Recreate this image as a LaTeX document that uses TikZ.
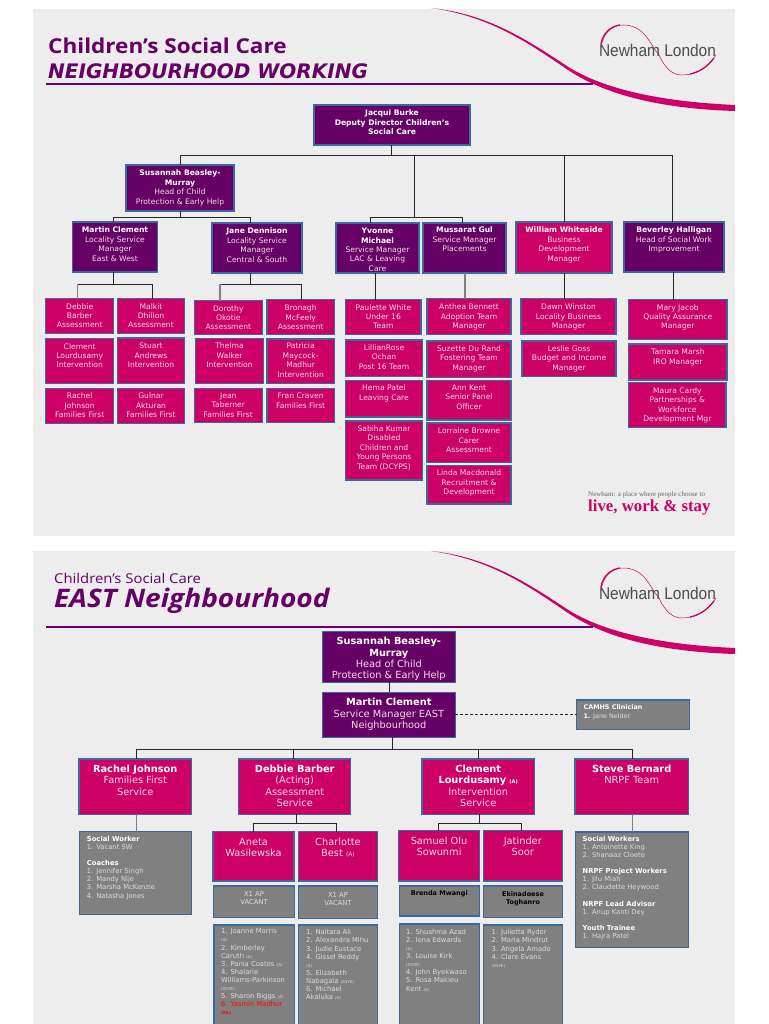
\documentclass[tikz,border=0pt]{standalone}
\usepackage{fontspec}
\setmainfont{DejaVu Sans}
\newfontfamily\titlefont[FakeStretch=1.1]{Open Sans}
\newfontfamily\logofont[FakeStretch=0.91]{Liberation Sans}
\newfontfamily\stayfont{Liberation Serif}
\definecolor{deeppurple}{HTML}{660066}
\definecolor{hotpink}{HTML}{CC0066}
\definecolor{slate}{HTML}{808080}
\definecolor{edgeblue}{HTML}{3A6A9C}
\definecolor{paper}{HTML}{EDEDED}
\definecolor{softpink}{HTML}{FAD9E8}
\definecolor{softgrey}{HTML}{DCDCDC}
\newcommand{\nm}[1]{\textbf{\color{white}#1}}
\newcommand{\stat}[1]{{\fontsize{4}{4}\selectfont (#1)}}
\tikzset{
	orgbox/.style={draw=edgeblue, line width=1.2pt, anchor=north west, inner sep=0, outer sep=0},
	purplebox/.style={orgbox, fill=deeppurple},
	pinkbox/.style={orgbox, fill=hotpink},
	greybox/.style={orgbox, fill=slate},
	smalltext/.style={anchor=north, align=center, inner sep=0, text=softpink, font=\fontsize{7.6}{9.4}\selectfont},
	bigtext/.style={anchor=north, align=center, inner sep=0, text=softpink, font=\fontsize{9.8}{11.3}\selectfont},
	vacanttext/.style={anchor=north, align=center, inner sep=0, text=softgrey, font=\fontsize{6.8}{8.1}\selectfont},
	blacktext/.style={anchor=north, align=center, inner sep=0, text=black, font=\bfseries\fontsize{6.5}{8.1}\selectfont},
	listtext/.style={anchor=north west, align=left, inner sep=0, text=softgrey, font=\fontsize{6.8}{8.1}\selectfont},
	wire/.style={draw=black!85, line width=1pt},
	greywire/.style={draw=black!50, line width=1.1pt},
}
\begin{document}
\begin{tikzpicture}[x=1pt, y=-1pt]
	\path[use as bounding box, clip] (0,0) rectangle (768,1024);
	\fill[white] (0,0) rectangle (768,1024);
	% Panels, swoosh and logo:
	\fill[paper] (33,9) rectangle (735,536);
	\fill[paper] (33,551) rectangle (735,1030);
	\foreach \dy in {0,543}{
		\fill[hotpink] (431,8+\dy) .. controls (490,14+\dy) and (530,42+\dy) .. (570,68+\dy) .. controls (610,92+\dy) and (670,102+\dy) .. (735,105+\dy) -- (735,111+\dy) .. controls (670,109+\dy) and (610,98+\dy) .. (568,70+\dy) .. controls (530,44+\dy) and (490,16+\dy) .. (431,8+\dy) -- cycle;
		\draw[hotpink, line width=0.5pt] (601,48+\dy) .. controls (603,30+\dy) and (615,25+\dy) .. (623,25+\dy) .. controls (645,25+\dy) and (650,45+\dy) .. (659,55+\dy) .. controls (665,68+\dy) and (672,75+\dy) .. (682,75+\dy) .. controls (697,75+\dy) and (708,67+\dy) .. (716,55+\dy);
		\draw[hotpink, line width=1.3pt] (601,44+\dy) .. controls (603,32+\dy) and (612,26+\dy) .. (620,25+\dy);
		\draw[hotpink, line width=1.3pt] (690,74+\dy) .. controls (700,72+\dy) and (708,66+\dy) .. (714,58+\dy);
		\node[anchor=center, inner sep=0, text=black!70, font=\logofont\fontsize{17}{17}\selectfont] (Logo\dy) at (657.5,50+\dy){Newham London};
		\fill[deeppurple] (46,82.7+\dy) rectangle (593,84.7+\dy);
	}
	% Titles:
	\node[anchor=west, inner sep=0, text=deeppurple, font=\titlefont\bfseries\fontsize{20.5}{20.5}\selectfont] (TitleA) at (48,46){Children’s Social Care};
	\node[anchor=west, inner sep=0, text=deeppurple, font=\bfseries\itshape\fontsize{20}{20}\selectfont] (TitleB) at (48,71){NEIGHBOURHOOD WORKING};
	\node[anchor=west, inner sep=0, text=deeppurple, font=\titlefont\fontsize{13.5}{13.5}\selectfont] (TitleC) at (54,578){Children’s Social Care};
	\node[anchor=west, inner sep=0, text=deeppurple, font=\titlefont\bfseries\itshape\fontsize{25.5}{25.5}\selectfont] (TitleD) at (54,601){EAST Neighbourhood};
	% Tagline:
	\node[anchor=west, inner sep=0, text=black!60, font=\stayfont\fontsize{7}{7}\selectfont] (TagA) at (588,494.5){Newham: a place where people choose to};
	\node[anchor=west, inner sep=0, text=hotpink, font=\stayfont\bfseries\fontsize{16.8}{16.8}\selectfont] (TagB) at (588,507){live, work \& stay};
	% Upper chart, managers:
	\node[purplebox, minimum width=156, minimum height=40](Burke) at (314,105){} node[smalltext] (BurkeT) at ([yshift=-5pt]Burke.north){\nm{Jacqui Burke}\\\nm{Deputy Director Children’s}\\\nm{Social Care}};
	\node[purplebox, minimum width=108, minimum height=46](BeasleyA) at (126,165){} node[smalltext] (BeasleyAT) at ([yshift=-5pt]BeasleyA.north){\nm{Susannah Beasley-}\\\nm{Murray}\\Head of Child\\Protection \& Early Help};
	\node[purplebox, minimum width=85, minimum height=50](ClementA) at (72.5,222){} node[smalltext] (ClementAT) at ([yshift=-5pt]ClementA.north){\nm{Martin Clement}\\Locality Service\\Manager\\East \& West};
	\node[purplebox, minimum width=90, minimum height=50](Dennison) at (212,223){} node[smalltext] (DennisonT) at ([yshift=-5pt]Dennison.north){\nm{Jane Dennison}\\Locality Service\\Manager\\Central \& South};
	\node[purplebox, minimum width=83, minimum height=50](Michael) at (336,223){} node[smalltext] (MichaelT) at ([yshift=-5pt]Michael.north){\nm{Yvonne}\\\nm{Michael}\\Service Manager\\LAC \& Leaving\\Care};
	\node[purplebox, minimum width=83, minimum height=50](Gul) at (423,223){} node[smalltext] (GulT) at ([yshift=-4pt]Gul.north){\nm{Mussarat Gul}\\Service Manager\\Placements};
	\node[pinkbox, minimum width=96, minimum height=51](Whiteside) at (516,222){} node[smalltext] (WhitesideT) at ([yshift=-5pt]Whiteside.north){\nm{William Whiteside}\\Business\\Development\\Manager};
	\node[purplebox, minimum width=100, minimum height=50](Halligan) at (624,222){} node[smalltext] (HalliganT) at ([yshift=-5pt]Halligan.north){\nm{Beverley Halligan}\\Head of Social Work\\Improvement};
	% Upper chart, teams:
	\node[pinkbox, minimum width=68, minimum height=34.6](Barber) at (45.7,298.7){} node[smalltext] (BarberT) at ([yshift=-4.5pt]Barber.north){Debbie\\Barber\\Assessment};
	\node[pinkbox, minimum width=67.4, minimum height=34.6](Dhillon) at (117.3,298.7){} node[smalltext] (DhillonT) at ([yshift=-4.5pt]Dhillon.north){Malkit\\Dhillon\\Assessment};
	\node[pinkbox, minimum width=68, minimum height=45](Lourdusamy) at (45.7,338.7){} node[smalltext] (LourdusamyT) at ([yshift=-4.5pt]Lourdusamy.north){Clement\\Lourdusamy\\Intervention};
	\node[pinkbox, minimum width=67.4, minimum height=45.7](Andrews) at (117.3,338){} node[smalltext] (AndrewsT) at ([yshift=-5pt]Andrews.north){Stuart\\Andrews\\Intervention};
	\node[pinkbox, minimum width=68, minimum height=35](JohnsonA) at (45.7,388.3){} node[smalltext] (JohnsonAT) at ([yshift=-4.5pt]JohnsonA.north){Rachel\\Johnson\\Families First};
	\node[pinkbox, minimum width=67.4, minimum height=35](Akturan) at (117.3,388.3){} node[smalltext] (AkturanT) at ([yshift=-4.5pt]Akturan.north){Gulnar\\Akturan\\Families First};
	\node[pinkbox, minimum width=68, minimum height=33.6](Okotie) at (194.3,300.7){} node[smalltext] (OkotieT) at ([yshift=-4.5pt]Okotie.north){Dorothy\\Okotie\\Assessment};
	\node[pinkbox, minimum width=67.3, minimum height=34.6](McFeely) at (267,299.7){} node[smalltext] (McFeelyT) at ([yshift=-5pt]McFeely.north){Bronagh\\McFeely\\Assessment};
	\node[pinkbox, minimum width=67.6, minimum height=45.4](Walker) at (195.7,338.3){} node[smalltext] (WalkerT) at ([yshift=-4.5pt]Walker.north){Thelma\\Walker\\Intervention};
	\node[pinkbox, minimum width=67.3, minimum height=44.7](Maycock) at (267,339){} node[smalltext] (MaycockT) at ([yshift=-4pt]Maycock.north){Patricia\\Maycock-\\Madhur\\Intervention};
	\node[pinkbox, minimum width=68, minimum height=34](Taberner) at (194.3,388.3){} node[smalltext] (TabernerT) at ([yshift=-4.5pt]Taberner.north){Jean\\Taberner\\Families First};
	\node[pinkbox, minimum width=67.3, minimum height=34](Craven) at (267,388.3){} node[smalltext] (CravenT) at ([yshift=-4.5pt]Craven.north){Fran Craven\\Families First};
	\node[pinkbox, minimum width=75.3, minimum height=34.6](White) at (345.7,299.7){} node[smalltext] (WhiteT) at ([yshift=-4.5pt]White.north){Paulette White\\Under 16\\Team};
	\node[pinkbox, minimum width=76.6, minimum height=36.7](Ochan) at (345.7,340){} node[smalltext] (OchanT) at ([yshift=-4.5pt]Ochan.north){LillianRose\\Ochan\\Post 16 Team};
	\node[pinkbox, minimum width=76.6, minimum height=36.7](Patel) at (345.7,380.3){} node[smalltext] (PatelT) at ([yshift=-4.5pt]Patel.north){Hema Patel\\Leaving Care};
	\node[pinkbox, minimum width=76.6, minimum height=59](Kumar) at (345.7,421){} node[smalltext] (KumarT) at ([yshift=-4.5pt]Kumar.north){Sabiha Kumar\\Disabled\\Children and\\Young Persons\\Team (DCYPS)};
	\node[pinkbox, minimum width=84, minimum height=35.6](Bennett) at (427,298.7){} node[smalltext] (BennettT) at ([yshift=-5pt]Bennett.north){Anthea Bennett\\Adoption Team\\Manager};
	\node[pinkbox, minimum width=84, minimum height=36.7](DuRand) at (427,341){} node[smalltext] (DuRandT) at ([yshift=-4.5pt]DuRand.north){Suzette Du Rand\\Fostering Team\\Manager};
	\node[pinkbox, minimum width=84, minimum height=39.7](Kent) at (427,380.3){} node[smalltext] (KentT) at ([yshift=-4.5pt]Kent.north){Ann Kent\\Senior Panel\\Officer};
	\node[pinkbox, minimum width=84, minimum height=39.7](Browne) at (427,423){} node[smalltext] (BrowneT) at ([yshift=-5pt]Browne.north){Lorraine Browne\\Carer\\Assessment};
	\node[pinkbox, minimum width=84, minimum height=38.7](Macdonald) at (427,465.3){} node[smalltext] (MacdonaldT) at ([yshift=-4.5pt]Macdonald.north){Linda Macdonald\\Recruitment \&\\Development};
	\node[pinkbox, minimum width=95, minimum height=35.6](Winston) at (521,298.7){} node[smalltext] (WinstonT) at ([yshift=-5pt]Winston.north){Dawn Winston\\Locality Business\\Manager};
	\node[pinkbox, minimum width=94, minimum height=35.7](Goss) at (522,341){} node[smalltext] (GossT) at ([yshift=-4.5pt]Goss.north){Leslie Goss\\Budget and Income\\Manager};
	\node[pinkbox, minimum width=98.3, minimum height=39.6](Jacob) at (628.7,299.7){} node[smalltext] (JacobT) at ([yshift=-4.5pt]Jacob.north){Mary Jacob\\Quality Assurance\\Manager};
	\node[pinkbox, minimum width=98.3, minimum height=36](Marsh) at (628.7,344){} node[smalltext] (MarshT) at ([yshift=-5pt]Marsh.north){Tamara Marsh\\IRO Manager};
	\node[pinkbox, minimum width=97.3, minimum height=45](Cardy) at (628.7,382.3){} node[smalltext] (CardyT) at ([yshift=-5pt]Cardy.north){Maura Cardy\\Partnerships \&\\Workforce\\Development Mgr};
	% Upper chart, wires:
	\coordinate (BusA) at (391,155.5);
	\coordinate (BusB) at (180,155.5);
	\coordinate (BusC) at (672,155.5);
	\coordinate (BusD) at (414.6,155.5);
	\coordinate (BusE) at (564,155.5);
	\draw[wire] (BusA |- Burke.south) -- (BusA);
	\draw[wire] (BusB) -- (BusC);
	\draw[wire] (BusB) -- (BusB |- BeasleyA.north);
	\draw[wire] (BusC) -- (BusC |- Halligan.north);
	\draw[wire] (BusE) -- (BusE |- Whiteside.north);
	\coordinate (SubA) at (370.7,218);
	\coordinate (SubB) at (462,218);
	\draw[wire] (BusD) -- (BusD |- SubA);
	\draw[wire] (Michael.north -| SubA) -- (SubA) -- (SubB) -- (SubB |- Gul.north);
	\coordinate (SubC) at (113.7,218);
	\coordinate (SubD) at (250.8,218);
	\draw[wire] (BusB |- BeasleyA.south) -- (BusB |- SubC);
	\draw[wire] (SubC |- ClementA.north) -- (SubC) -- (SubD) -- (SubD |- Dennison.north);
	\coordinate (LowA) at (77.5,284.3);
	\coordinate (LowB) at (152,284.3);
	\coordinate (LowC) at (220,284.3);
	\coordinate (LowD) at (301,284.3);
	\draw[wire] (SubC |- ClementA.south) -- (SubC |- LowA);
	\draw[wire] (SubD |- Dennison.south) -- (SubD |- LowC);
	\draw[wire] (LowA) -- (LowB);
	\draw[wire] (LowC) -- (LowD);
	\draw[greywire] (LowA) -- (LowA |- Barber.north);
	\draw[wire] (LowB) -- (LowB |- Dhillon.north);
	\draw[greywire] (LowC) -- (LowC |- Okotie.north);
	\draw[wire] (LowD) -- (LowD |- McFeely.north);
	\coordinate (DropA) at (375,273);
	\coordinate (DropB) at (465,273);
	\coordinate (DropC) at (564,273);
	\coordinate (DropD) at (673.5,272);
	\draw[wire] (DropA) -- (DropA |- White.north);
	\draw[greywire] (DropB) -- (DropB |- Bennett.north);
	\draw[wire] (DropC) -- (DropC |- Winston.north);
	\draw[wire] (DropD) -- (DropD |- Jacob.north);
	% Lower chart, managers:
	\node[purplebox, minimum width=133, minimum height=51](BeasleyB) at (322.3,631.3){} node[bigtext] (BeasleyBT) at ([yshift=-6pt]BeasleyB.north){\nm{Susannah Beasley-}\\\nm{Murray}\\Head of Child\\Protection \& Early Help};
	\node[purplebox, minimum width=133, minimum height=45](ClementB) at (322.3,692.3){} node[bigtext] (ClementBT) at ([yshift=-6pt]ClementB.north){\nm{Martin Clement}\\Service Manager EAST\\Neighbourhood};
	\node[greybox, minimum width=112.7, minimum height=29.3](Nelder) at (576.6,700){} node[listtext, font=\fontsize{6.4}{8.8}\selectfont] (NelderT) at (583.4,704.5){\nm{CAMHS Clinician}\\\nm{1.} Jane Nelder};
	\node[pinkbox, minimum width=112.6, minimum height=55.3](JohnsonB) at (78.9,759){} node[bigtext] (JohnsonBT) at ([yshift=-6pt]JohnsonB.north){\nm{Rachel Johnson}\\Families First\\Service};
	\node[pinkbox, minimum width=112.2, minimum height=55.3](BarberB) at (238.6,759){} node[bigtext] (BarberBT) at ([yshift=-6pt]BarberB.north){\nm{Debbie Barber}\\(Acting)\\Assessment\\Service};
	\node[pinkbox, minimum width=112.6, minimum height=55.3](LourdusamyB) at (421.9,759){} node[bigtext] (LourdusamyBT) at ([yshift=-6pt]LourdusamyB.north){\nm{Clement}\\\nm{Lourdusamy} {\fontsize{5}{5}\selectfont\bfseries\color{white}(A)}\\Intervention\\Service};
	\node[pinkbox, minimum width=113.4, minimum height=55.3](Bernard) at (575,759){} node[bigtext] (BernardT) at ([yshift=-6pt]Bernard.north){\nm{Steve Bernard}\\NRPF Team};
	% Lower chart, teams:
	\node[pinkbox, minimum width=81, minimum height=49.3](Wasilewska) at (213,831.7){} node[bigtext] (WasilewskaT) at ([yshift=-6pt]Wasilewska.north){Aneta\\Wasilewska};
	\node[pinkbox, minimum width=78.6, minimum height=49.3](Best) at (298.7,831.7){} node[bigtext] (BestT) at ([yshift=-6pt]Best.north){Charlotte\\Best {\fontsize{6}{6}\selectfont (A)}};
	\node[pinkbox, minimum width=80.6, minimum height=50.3](Sowunmi) at (398.7,830.7){} node[bigtext] (SowunmiT) at ([yshift=-6pt]Sowunmi.north){Samuel Olu\\Sowunmi};
	\node[pinkbox, minimum width=79, minimum height=50.3](Soor) at (483.3,830.7){} node[bigtext] (SoorT) at ([yshift=-6pt]Soor.north){Jatinder\\Soor};
	\node[greybox, minimum width=80.6, minimum height=31.7](VacantA) at (213.7,886){} node[vacanttext] (VacantAT) at ([yshift=-5pt]VacantA.north){X1 AP\\VACANT};
	\node[greybox, minimum width=78.6, minimum height=32.3](VacantB) at (298.7,886){} node[vacanttext] (VacantBT) at ([yshift=-6pt]VacantB.north){X1 AP\\VACANT};
	\node[greybox, minimum width=80, minimum height=30](Mwangi) at (399.3,886){} node[blacktext] (MwangiT) at ([yshift=-4pt]Mwangi.north){Brenda Mwangi};
	\node[greybox, minimum width=78.6, minimum height=31.3](Toghanro) at (483.7,886){} node[blacktext] (ToghanroT) at ([yshift=-5pt]Toghanro.north){Ekinadoese\\Toghanro};
	% Lower chart, staff lists:
	\node[greybox, minimum width=112.4, minimum height=83](StaffA) at (79.3,831.7){} node[listtext] (StaffAT) at (86.7,836){\nm{Social Worker}\\1. Vacant SW\\[8.1pt]\nm{Coaches}\\1. Jennifer Singh\\2. Mandy Nije\\3. Marsha McKenzie\\4. Natasha Jones};
	\node[greybox, minimum width=80.3, minimum height=110](StaffB) at (214,925){} node[listtext] (StaffBT) at (221,928.5){1. Joanne Morris\\\stat{A}\\2. Kimberley\\Caruth \stat{A}\\3. Pania Coates \stat{A}\\4. Shalarie\\Williams-Parkinson\\\stat{ASYE}\\5. Sharon Biggs \stat{A}\\\textcolor{red}{6. Yasmin Madhur}\\\textcolor{red}{\textbf{\stat{ML}}}};
	\node[greybox, minimum width=78.6, minimum height=110](StaffC) at (298.7,925){} node[listtext] (StaffCT) at (306,929.5){1. Naitara Ali\\2. Alexandra Mihu\\3. Judie Eustace\\4. Gissel Reddy\\\stat{A}\\5. Elizabeth\\Nabagala \stat{ASYE}\\6. Michael\\Akaluka \stat{A}};
	\node[greybox, minimum width=80, minimum height=110](StaffD) at (399.3,924){} node[listtext] (StaffDT) at (406,929){1. Shushma Azad\\2. Iona Edwards\\\stat{A}\\3. Louise Kirk\\\stat{ASYE}\\4. John Byekwaso\\5. Rosa Makieu\\Kent \stat{A}};
	\node[greybox, minimum width=78.6, minimum height=110](StaffE) at (483.7,925){} node[listtext] (StaffET) at (491.5,929.5){1. Julietta Ryder\\2. Maria Mindrut\\3. Angela Amado\\4. Clare Evans\\\stat{ASYE}};
	\node[greybox, minimum width=112.6, minimum height=115.7](StaffF) at (575.7,832){} node[listtext] (StaffFT) at (582.5,836){\nm{Social Workers}\\1. Antoinette King\\2. Shanaaz Cloete\\[8.1pt]\nm{NRPF Project Workers}\\1. Jilu Miah\\2. Claudette Heywood\\[8.1pt]\nm{NRPF Lead Advisor}\\1. Anup Kanti Dey\\[8.1pt]\nm{Youth Trainee}\\1. Hajra Patel};
	% Lower chart, wires:
	\coordinate (TieA) at (389.7,682.3);
	\coordinate (BusF) at (392,749);
	\coordinate (BusG) at (136.3,749);
	\coordinate (BusH) at (632.3,749);
	\coordinate (BusI) at (293.8,749);
	\coordinate (BusJ) at (478.9,749);
	\draw[wire] (TieA) -- (TieA |- ClementB.north);
	\draw[wire, dash pattern=on 3pt off 2pt] (ClementB.east |- Nelder.west) -- (Nelder.west);
	\draw[wire] (BusF |- ClementB.south) -- (BusF);
	\draw[wire] (BusG) -- (BusH);
	\draw[wire] (BusG) -- (BusG |- JohnsonB.north);
	\draw[wire] (BusI) -- (BusI |- BarberB.north);
	\draw[wire] (BusJ) -- (BusJ |- LourdusamyB.north);
	\draw[wire] (BusH) -- (BusH |- Bernard.north);
	\coordinate (LegA) at (296.5,823.7);
	\coordinate (LegB) at (253.3,823.7);
	\coordinate (LegC) at (336,823.7);
	\coordinate (LegD) at (479,823.7);
	\coordinate (LegE) at (438,823.7);
	\coordinate (LegF) at (521,823.7);
	\draw[greywire] (BusG |- JohnsonB.south) -- (BusG |- StaffA.north);
	\draw[greywire] (BusH |- Bernard.south) -- (BusH |- StaffF.north);
	\draw[wire] (LegA |- BarberB.south) -- (LegA);
	\draw[wire] (LegB |- Wasilewska.north) -- (LegB) -- (LegC) -- (LegC |- Best.north);
	\draw[wire] (LegD |- LourdusamyB.south) -- (LegD);
	\draw[wire] (LegE |- Sowunmi.north) -- (LegE) -- (LegF) -- (LegF |- Soor.north);
\end{tikzpicture}
\end{document}
